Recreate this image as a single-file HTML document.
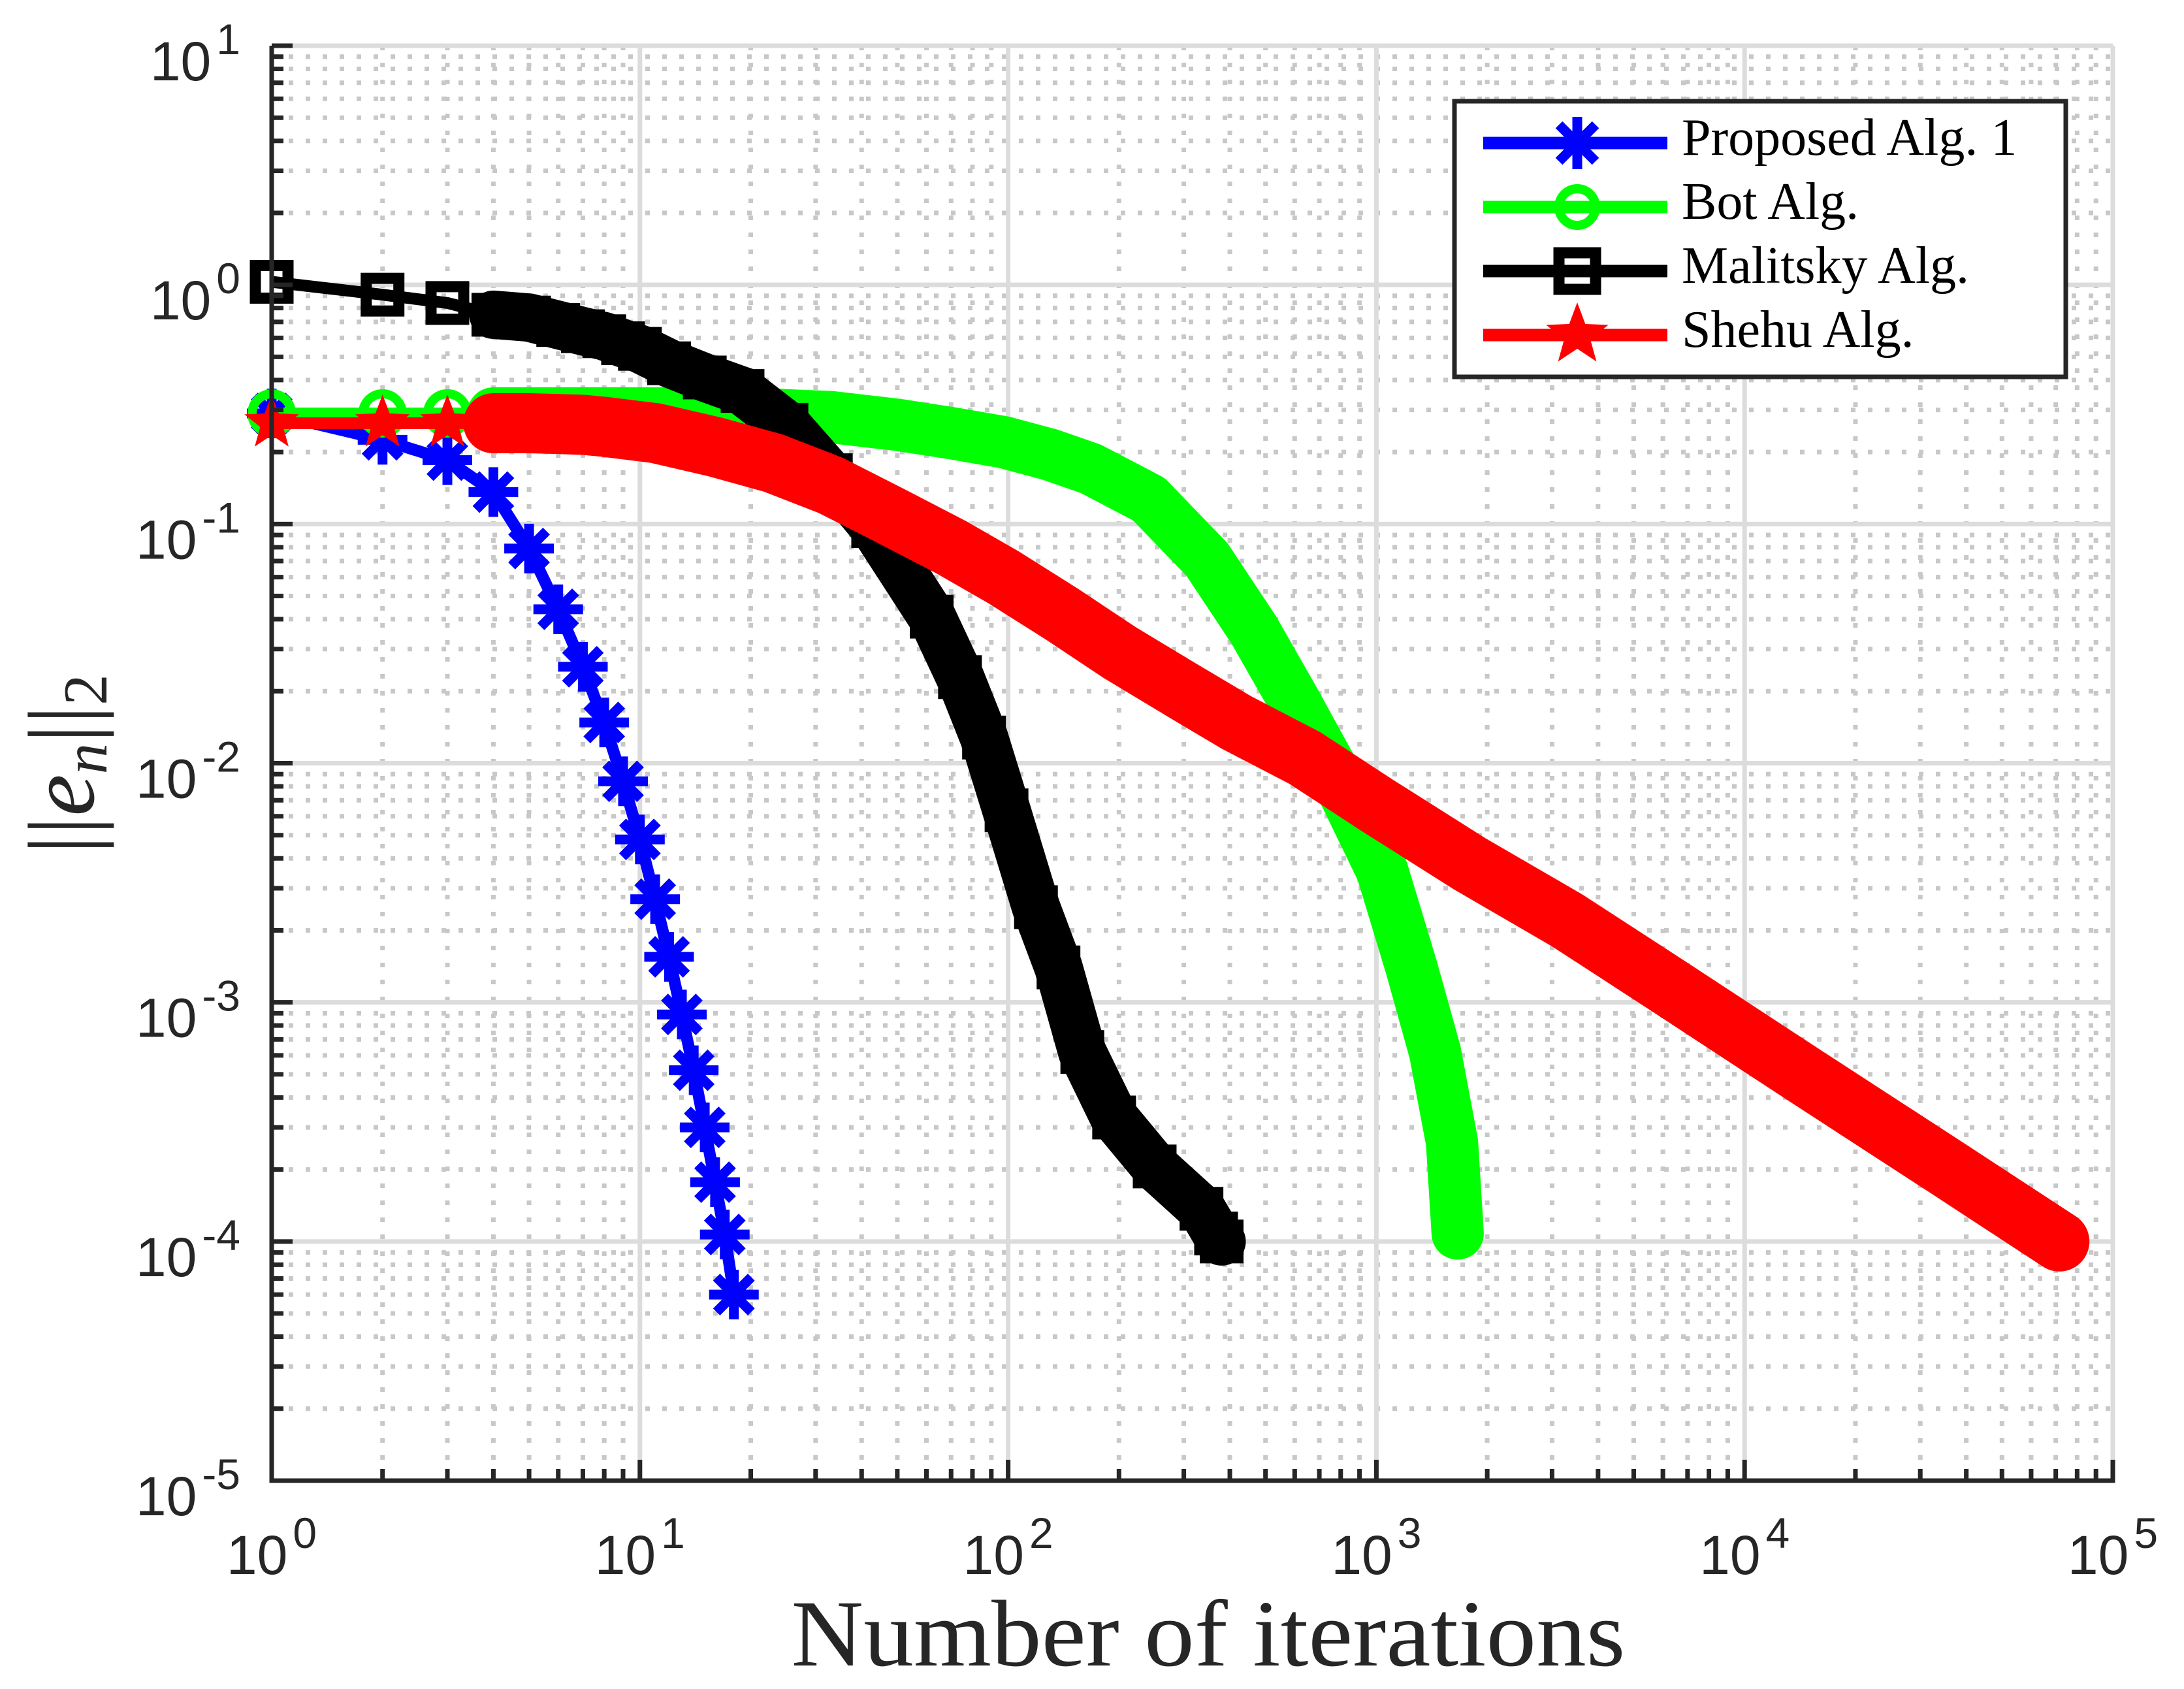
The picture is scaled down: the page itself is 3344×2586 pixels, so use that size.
<!DOCTYPE html>
<html><head><meta charset="utf-8"><style>
html,body{margin:0;padding:0;background:#fff;}
svg{display:block;}
</style></head><body>
<svg id="chart" xmlns="http://www.w3.org/2000/svg" width="3344" height="2586" viewBox="0 0 3344 2586">
<rect x="0" y="0" width="3344" height="2586" fill="#fff"/>
<g id="grid"></g>
<g id="series"></g>
<g id="axes"></g>
<text x="1850" y="2550" text-anchor="middle" textLength="1277" lengthAdjust="spacingAndGlyphs" font-family="Liberation Serif, serif" font-size="145" fill="#262626">Number of iterations</text>
<text transform="translate(143,1170) rotate(-90)" text-anchor="middle" font-family="Liberation Serif, serif" font-size="145" fill="#262626">||<tspan font-style="italic">e</tspan><tspan font-style="italic" font-size="95" dy="20">n</tspan><tspan dy="-20">||</tspan><tspan font-size="95" dy="20">2</tspan></text>
<g id="legend"></g>
</svg>
<script>
const xTickExps = [0, 1, 2, 3, 4, 5];
const yTickExps = [1, 0, -1, -2, -3, -4, -5];
const seriesNames = ["Proposed Alg. 1", "Bot Alg.", "Malitsky Alg.", "Shehu Alg."];

const blueN = [1,2,3,4,5,6,7,8,9,10,11,12,13,14,15,16,17,18];
const blueV = [0.29,0.225,0.185,0.136,0.079,0.044,0.0253,0.0148,0.0084,0.0048,0.0027,0.00155,0.00089,0.00052,0.0003,0.000177,0.000107,0.00006];

const greenN = [1,2,3,4,5,6,7,8,9,10,12,15,20,25,33,50,70,97,130,168,241,347,465,600,803,1037,1245,1443,1605,1663];
const greenV = [0.29,0.29,0.29,0.29,0.29,0.29,0.29,0.29,0.29,0.29,0.29,0.29,0.29,0.285,0.28,0.26,0.24,0.22,0.195,0.17,0.127,0.071,0.036,0.0181,0.008,0.00355,0.0014,0.00062,0.00026,0.000108];

const blackN = [1,2,3,4,5,6,7,8,9,10,12,15,19,25,33,43,62,74,86,99,119,137,159,194,250,335,367,380];
const blackV = [1.03,0.91,0.84,0.75,0.73,0.68,0.64,0.61,0.57,0.54,0.47,0.41,0.36,0.26,0.16,0.098,0.041,0.0229,0.0128,0.00635,0.0025,0.0014,0.00062,0.00033,0.000206,0.000137,0.000108,0.0001];

const redN = [1,2,3,4,5,6,7,8,11,16,23,33,47,70,97,140,201,300,417,640,1000,1790,3300,6200,15000,36000,71600];
const redV = [0.264,0.264,0.264,0.264,0.264,0.262,0.26,0.255,0.24,0.21,0.18,0.145,0.11,0.08,0.06,0.042,0.029,0.02,0.0148,0.0105,0.0067,0.0038,0.0022,0.00117,0.00048,0.0002,0.0001];

const L=416, R=3235, T=70, B=2267;
const X = n => L + Math.log10(n) * (R-L)/5;
const Y = v => T + (1 - Math.log10(v)) * (B-T)/6;
const NS="http://www.w3.org/2000/svg";
function mk(tag, attrs, parent){const e=document.createElementNS(NS,tag);for(const k in attrs)e.setAttribute(k,attrs[k]);parent.appendChild(e);return e;}

const grid=document.getElementById('grid');
const axes=document.getElementById('axes');
for(let d=0; d<5; d++){for(let k=2;k<=9;k++){const x=X(k*Math.pow(10,d));
 const g=mk('line',{x1:x,y1:T,x2:x,y2:B,stroke:'#c8c8c8','stroke-width':7,'stroke-dasharray':'7 19'},grid);
 
 
 const t=mk('line',{x1:x,y1:B,x2:x,y2:B-18,stroke:'#262626','stroke-width':7},axes);
 
 }}
for(let d=-5; d<1; d++){for(let k=2;k<=9;k++){const y=Y(k*Math.pow(10,d));
 const g=mk('line',{x1:L,y1:y,x2:R,y2:y,stroke:'#c8c8c8','stroke-width':7,'stroke-dasharray':'7 19'},grid);
 
 
 const t=mk('line',{x1:L,y1:y,x2:L+18,y2:y,stroke:'#262626','stroke-width':7},axes);
 
 }}
xTickExps.forEach(e=>{const x=X(Math.pow(10,e));
 const g=mk('line',{x1:x,y1:T,x2:x,y2:B,stroke:'#dcdcdc','stroke-width':7},grid);
 
 
 const t=mk('line',{x1:x,y1:B,x2:x,y2:B-32,stroke:'#262626','stroke-width':7},axes);
 
 
 const tx=mk('text',{x:x,y:2410,'text-anchor':'middle','font-family':'Liberation Sans, sans-serif','font-size':84,fill:'#262626'},axes);
 
 
 tx.appendChild(document.createTextNode('10'));
 const sp=mk('tspan',{dy:-40,dx:8,'font-size':66},tx); sp.textContent=String(e);
});
yTickExps.forEach(e=>{const y=Y(Math.pow(10,e));
 const g=mk('line',{x1:L,y1:y,x2:R,y2:y,stroke:'#dcdcdc','stroke-width':7},grid);
 
 
 const t=mk('line',{x1:L,y1:y,x2:L+32,y2:y,stroke:'#262626','stroke-width':7},axes);
 
 
 const tx=mk('text',{x:368,y:y+53,'text-anchor':'end','font-family':'Liberation Sans, sans-serif','font-size':84,fill:'#262626'},axes);
 
 
 tx.appendChild(document.createTextNode('10'));
 const sp=mk('tspan',{dy:-40,dx:8,'font-size':66},tx); sp.textContent=String(e);
});
const ax1=mk('line',{x1:L,y1:T,x2:L,y2:B+3.5,stroke:'#262626','stroke-width':7},axes);


const ax2=mk('line',{x1:L-3.5,y1:B,x2:R+3.5,y2:B,stroke:'#262626','stroke-width':7},axes);



function marker(type,cx,cy,color,parent,s){
 let el;
 if(type==='asterisk'){
  el=mk('path',{d:`M${cx},${cy-s}V${cy+s}M${cx-s},${cy}H${cx+s}M${cx-s*0.7},${cy-s*0.7}L${cx+s*0.7},${cy+s*0.7}M${cx-s*0.7},${cy+s*0.7}L${cx+s*0.7},${cy-s*0.7}`,stroke:color,'stroke-width':15,fill:'none'},parent);
 } else if(type==='circle'){
  el=mk('circle',{cx:cx,cy:cy,r:s,stroke:color,'stroke-width':14,fill:'none'},parent);
 } else if(type==='square'){
  el=mk('rect',{x:cx-s,y:cy-s,width:2*s,height:2*s,stroke:color,'stroke-width':17,fill:'none'},parent);
 } else {
  let p=[];for(let i=0;i<10;i++){const r=i%2?s*0.42:s;const a=-Math.PI/2+i*Math.PI/5;p.push((cx+r*Math.cos(a)).toFixed(1)+','+(cy+r*Math.sin(a)).toFixed(1));}
  el=mk('polygon',{points:p.join(' '),fill:color},parent);
 }
 return el;
}
const seriesLayer=document.getElementById('series');
const defs=[
 {name:'proposed-series',N:blueN,V:blueV,color:'#0000ff',type:'asterisk',s:38,band:0},
 {name:'bot-series',N:greenN,V:greenV,color:'#00ff00',type:'circle',s:30,band:80},
 {name:'malitsky-series',N:blackN,V:blackV,color:'#000000',type:'square',s:25,band:74},
 {name:'shehu-series',N:redN,V:redV,color:'#ff0000',type:'star',s:44,band:92}
];
defs.forEach(d=>{
 const g=mk('g',{},seriesLayer);
 
 
 const pts=d.N.map((n,i)=>X(n).toFixed(1)+','+Y(d.V[i]).toFixed(1));
 const line=mk('polyline',{points:pts.join(' '),fill:'none',stroke:d.color,'stroke-width':18,'stroke-linejoin':'round'},g);
 
 
 if(d.band){
  const bp=[];d.N.forEach((n,i)=>{if(n>=4)bp.push(X(n).toFixed(1)+','+Y(d.V[i]).toFixed(1));});
  const band=mk('polyline',{points:bp.join(' '),fill:'none',stroke:d.color,'stroke-width':d.band,'stroke-linejoin':'round','stroke-linecap':'round'},g);
  
  
 }
 d.N.forEach((n,i)=>{
  const m=marker(d.type,X(n),Y(d.V[i]),d.color,g,d.s);
  
  
 });
});

const lg=document.getElementById('legend');
const box=mk('rect',{x:2227,y:155,width:936,height:422,fill:'#fff',stroke:'#262626','stroke-width':7},lg);


const rowsY=[219,317,415,513];
defs.forEach((d,i)=>{
 const g=mk('g',{},lg);
 
 
 mk('line',{x1:2271,y1:rowsY[i],x2:2553,y2:rowsY[i],stroke:d.color,'stroke-width':19},g);
 marker(d.type,2415,rowsY[i],d.color,g,d.type==='star'?50:(d.type==='asterisk'?40:28));
 const t=mk('text',{x:2575,y:rowsY[i]+18,'font-family':'Liberation Serif, serif','font-size':80,fill:'#000'},g);
 t.textContent=seriesNames[i];
});
</script>
</body></html>
